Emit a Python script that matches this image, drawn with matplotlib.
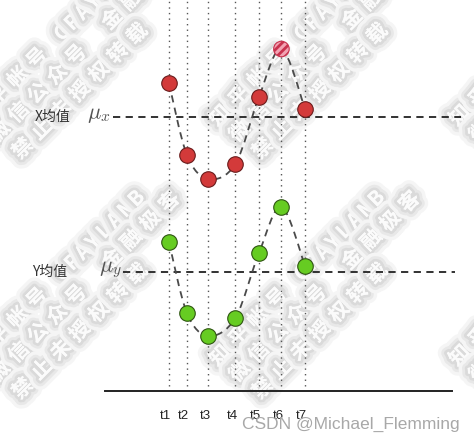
import matplotlib
matplotlib.use("Agg")
import matplotlib.pyplot as plt
import matplotlib.patheffects as pe
from matplotlib.path import Path
from matplotlib.patches import PathPatch
import numpy as np

plt.rcParams["mathtext.fontset"] = "cm"

# ---------------- data ----------------
t_labels = ["t1", "t2", "t3", "t4", "t5", "t6", "t7"]
t_pos = [0.0, 0.8, 1.75, 2.95, 4.0, 5.0, 6.05]
x_vals = [35.4, 28.2, 25.8, 27.3, 34.0, 38.8, 32.8]   # red series (X)
y_vals = [19.5, 12.4, 10.1, 11.9, 18.4, 23.0, 17.1]   # green series (Y)
x_mean = 32.0
y_mean = 16.5
baseline = 4.6
mean_labels = ["X均值", "Y均值"]
mean_symbols = [r"$\mu_x$", r"$\mu_y$"]
highlight_idx = 5  # hatched red point

W, H = 474, 437
fig = plt.figure(figsize=(W / 100, H / 100), dpi=100)
ax = fig.add_axes([0, 0, 1, 1])
ax.set_xlim(-7.51, 13.56)
ax.set_ylim(0, 43.7)
ax.axis("off")

# ---------------- watermarks ----------------
wm_lines = ["知乎帐号 GRAYLAMB", "微信公众号  金融极客", "禁止未授权转载"]
wm_offsets = [(0, 0), (20, 16), (43, 33)]
effects = [pe.withStroke(linewidth=13, foreground="#f5f5f5"),
           pe.withStroke(linewidth=8, foreground="#e8e8e8"),
           pe.withStroke(linewidth=4, foreground="#dadada"),
           pe.Normal()]
diag = np.array([np.cos(np.radians(45)), -np.sin(np.radians(45))])


def char_step(c):
    if c == " ":
        return 12
    if ord(c) < 128:
        return 15
    return 27


for i in (-1, 0, 1):
    for j in (-1, 0):
        bx, by = 217 + 240 * i, 367 + 240 * j
        for txt, (dx, dy) in zip(wm_lines, wm_offsets):
            pos = np.array([bx + dx, by + dy], dtype=float)
            for c in txt:
                if c != " " and -30 < pos[0] < W + 10 and -10 < pos[1] < H + 30:
                    ax.text(pos[0] / W, 1 - pos[1] / H, c,
                            transform=ax.transAxes, rotation=45,
                            rotation_mode="anchor", ha="left", va="baseline",
                            fontsize=14.5, fontweight="bold",
                            family=["Noto Sans CJK SC", "DejaVu Sans"],
                            color="#fbfbfb", path_effects=effects,
                            zorder=0.5, clip_on=True)
                pos = pos + diag * char_step(c)

# ---------------- vertical dotted lines ----------------
for t in t_pos:
    ax.plot([t, t], [5.1, 43.7], linestyle=(0, (1, 3)), color="#555555",
            lw=1.0, zorder=1)

# ---------------- mean lines ----------------
ax.plot([-2.49, 13.0], [x_mean, x_mean], linestyle=(0, (4, 3)),
        color="#222222", lw=1.3, zorder=2)
ax.plot([-2.04, 12.7], [y_mean, y_mean], linestyle=(0, (4, 3)),
        color="#222222", lw=1.3, zorder=2)
# baseline
ax.plot([-2.84, 12.58], [baseline, baseline], color="#222222", lw=1.4,
        zorder=2)

# mean labels
for lab, sym, m, lx, sx in zip(mean_labels, mean_symbols, [x_mean, y_mean],
                               [-5.15, -5.3], [-3.1, -2.6]):
    ax.text(lx, m, lab, ha="center", va="center", fontsize=10,
            family=["Noto Sans CJK SC", "DejaVu Sans"], color="#333333",
            zorder=3)
    ax.text(sx, m + 0.2, sym, ha="center", va="center", fontsize=16,
            color="#555555", zorder=3)


# ---------------- smooth dashed curves (Catmull-Rom through points) ----
def smooth_path(xs, ys):
    pts = np.column_stack([xs, ys])
    n = len(pts)
    verts = [pts[0]]
    codes = [Path.MOVETO]
    for k in range(n - 1):
        p0 = pts[max(k - 1, 0)]
        p1 = pts[k]
        p2 = pts[k + 1]
        p3 = pts[min(k + 2, n - 1)]
        c1 = p1 + (p2 - p0) / 6.0
        c2 = p2 - (p3 - p1) / 6.0
        verts += [c1, c2, p2]
        codes += [Path.CURVE4] * 3
    return Path(verts, codes)


for vals in (x_vals, y_vals):
    patch = PathPatch(smooth_path(t_pos, vals), facecolor="none",
                      edgecolor="#4a4a4a", lw=1.3,
                      linestyle=(0, (4, 3)), zorder=3)
    ax.add_patch(patch)

# ---------------- points ----------------
red_idx = [k for k in range(len(t_pos)) if k != highlight_idx]
ax.scatter([t_pos[k] for k in red_idx], [x_vals[k] for k in red_idx],
           s=125, facecolor="#d33a3a", edgecolor="#6a1c1c", linewidth=0.8,
           zorder=4)
plt.rcParams["hatch.linewidth"] = 2.0
ax.scatter([t_pos[highlight_idx]], [x_vals[highlight_idx]], s=125,
           facecolor="#f2a2b2", edgecolor="#c8324e", hatch="////",
           linewidth=0.8, zorder=4)
ax.scatter(t_pos, y_vals, s=125, facecolor="#66cc22", edgecolor="#2f5512",
           linewidth=0.8, zorder=4)

# ---------------- tick labels ----------------
for t, lab in zip(t_pos, t_labels):
    ax.text(t - 0.15, (437 - 416) / 10, lab, ha="center", va="center",
            fontsize=9.5, family="Liberation Sans", color="#222222",
            zorder=3)

# credit text
ax.text(460 / W, 1 - 429 / H, "CSDN @Michael_Flemming",
        transform=ax.transAxes, ha="right", va="baseline", fontsize=12.5,
        family="Liberation Sans", color="#a8a8a8", zorder=5)

fig.savefig("out.png", dpi=100)
